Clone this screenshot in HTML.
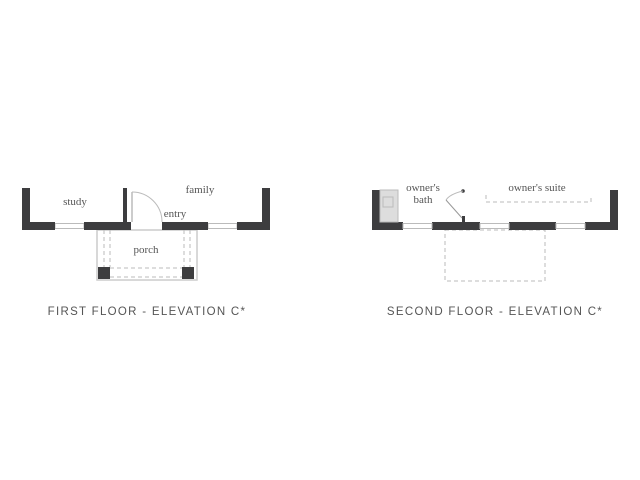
<!DOCTYPE html>
<html><head><style>
body{margin:0;background:#fff;}
svg{display:block}
text{font-family:"Liberation Serif",serif;fill:#555;font-size:11px;}
.t{font-family:"Liberation Sans",sans-serif;font-size:11.5px;letter-spacing:1.3px;fill:#555;}
</style></head><body>
<svg width="640" height="480" viewBox="0 0 640 480">
<g fill="none" stroke="#bbb" stroke-width="1">
<rect x="55" y="223.5" width="29" height="5"/>
<rect x="208" y="223.5" width="29" height="5"/>
<rect x="97" y="230" width="100" height="50" stroke="#ccc" stroke-width="1.5"/>
</g>
<g fill="none" stroke="#bbb" stroke-dasharray="4,3">
<line x1="104" y1="230" x2="104" y2="267"/><line x1="110" y1="230" x2="110" y2="267"/>
<line x1="184" y1="230" x2="184" y2="267"/><line x1="190" y1="230" x2="190" y2="267"/>
<line x1="110" y1="268" x2="182" y2="268"/><line x1="110" y1="277" x2="182" y2="277"/>
</g>
<g fill="#3d3d3f">
<rect x="22" y="188" width="8" height="42"/>
<rect x="22" y="222" width="33" height="8"/>
<rect x="84" y="222" width="47" height="8"/>
<rect x="123" y="188" width="4" height="36"/>
<rect x="162" y="222" width="46" height="8"/>
<rect x="237" y="222" width="33" height="8"/>
<rect x="262" y="188" width="8" height="42"/>
<rect x="98" y="267" width="12" height="12"/>
<rect x="182" y="267" width="12" height="12"/>
</g>
<line x1="132" y1="192" x2="132" y2="222" stroke="#999" stroke-width="1"/>
<path d="M132 192 A30 30 0 0 1 162 222" fill="none" stroke="#bbb"/>
<text x="75" y="205" text-anchor="middle">study</text>
<text x="200" y="193" text-anchor="middle">family</text>
<text x="175" y="217" text-anchor="middle">entry</text>
<text x="146" y="253" text-anchor="middle">porch</text>
<text class="t" x="147" y="315" text-anchor="middle">FIRST FLOOR - ELEVATION C*</text>

<g fill="none" stroke="#bbb" stroke-dasharray="4,3">
<path d="M486 195 V202 H591 V195"/>
<rect x="445" y="230" width="100" height="51"/>
</g>
<g fill="#3d3d3f">
<rect x="372" y="190" width="8" height="40"/>
<rect x="372" y="222" width="31" height="8"/>
<rect x="432" y="222" width="48" height="8"/>
<rect x="509" y="222" width="47" height="8"/>
<rect x="585" y="222" width="33" height="8"/>
<rect x="610" y="190" width="8" height="40"/>
<rect x="462" y="216" width="3" height="6"/>
<circle cx="463" cy="191" r="1.8"/>
</g>
<rect x="380" y="190" width="18" height="32" fill="#ddd" stroke="#bbb"/>
<rect x="383" y="197" width="10" height="10" fill="none" stroke="#bbb"/>
<g fill="none" stroke="#bbb">
<rect x="403" y="223.5" width="29" height="5"/>
<rect x="480" y="223.5" width="29" height="5"/>
<rect x="556" y="223.5" width="29" height="5"/>
<path d="M463 191 Q450 194 446 200" />
<line x1="446" y1="200" x2="462" y2="218" stroke="#999"/>
</g>
<text x="423" y="191" text-anchor="middle">owner's</text>
<text x="423" y="203" text-anchor="middle">bath</text>
<text x="537" y="191" text-anchor="middle">owner's suite</text>
<text class="t" x="495" y="315" text-anchor="middle">SECOND FLOOR - ELEVATION C*</text>
</svg>
</body></html>
